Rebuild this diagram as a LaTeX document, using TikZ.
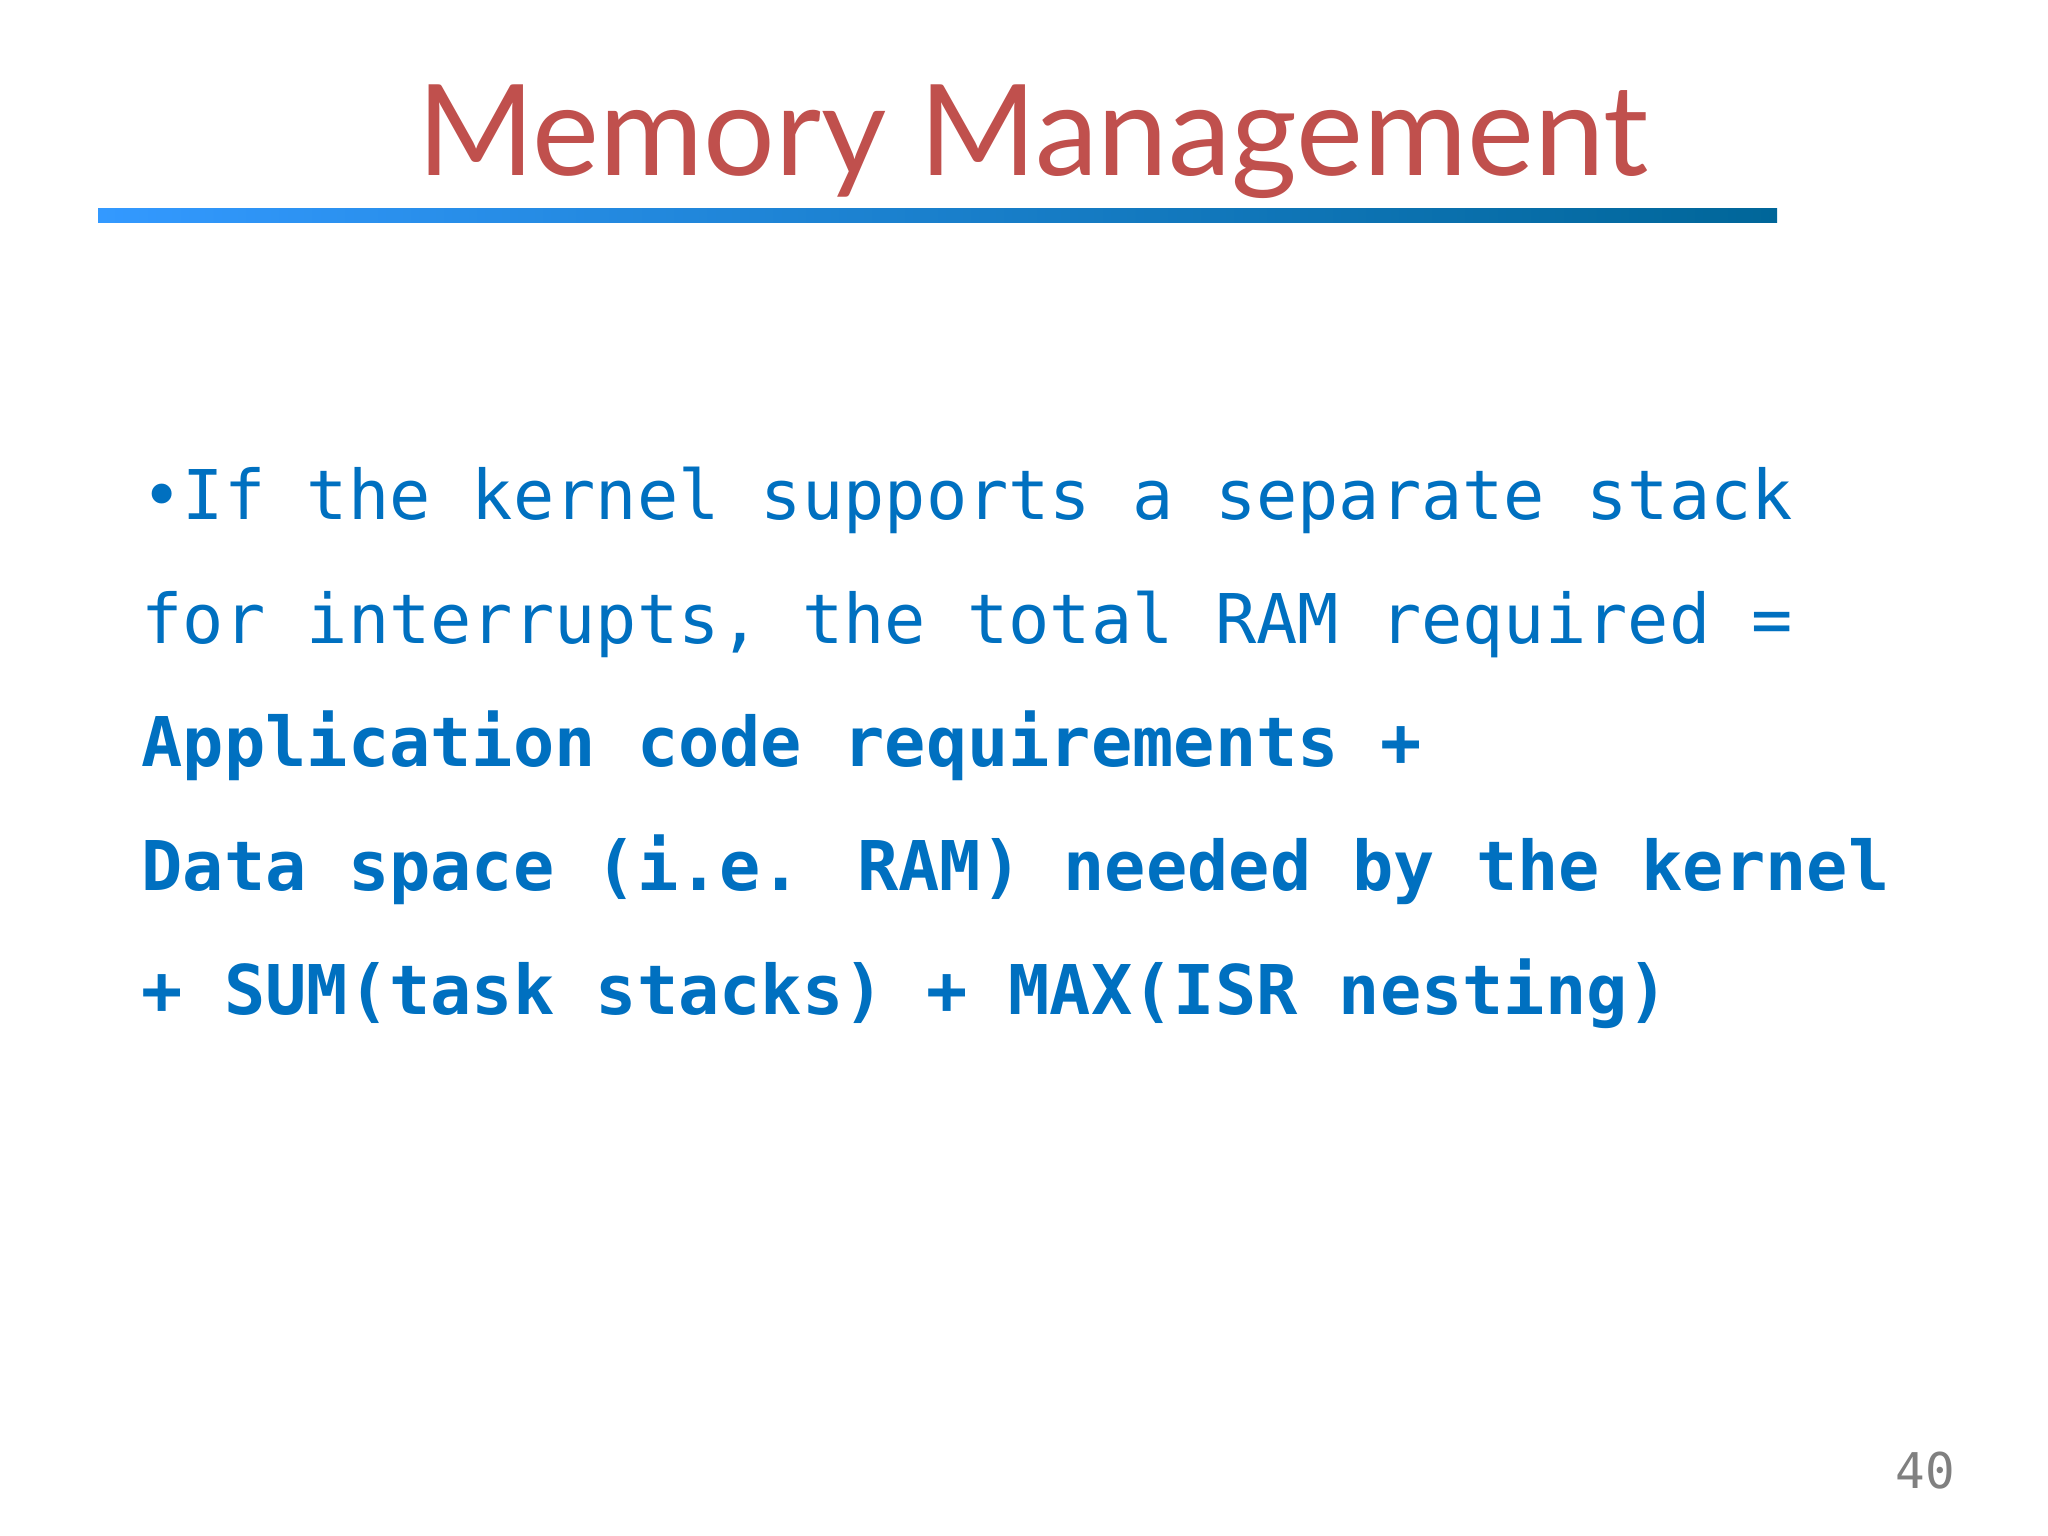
\documentclass[tikz,border=0pt]{standalone}
\usepackage{fontspec}
\setmainfont{Lato}
\newfontfamily\monof{DejaVu Sans Mono}
\usetikzlibrary{shadings}
\definecolor{titlec}{RGB}{192,80,77}
\definecolor{bodyc}{RGB}{0,112,192}
\definecolor{ga}{RGB}{51,153,255}
\definecolor{gb}{RGB}{0,102,153}
\tikzset{body/.style={anchor=base west,inner sep=0pt,text=bodyc,font=\monof\fontsize{19.5}{23}\selectfont}}
\begin{document}
\begin{tikzpicture}[x=0.01cm,y=-0.01cm]
\useasboundingbox[fill=white] (0,0) rectangle (2048,1536);
\node[anchor=base,inner sep=0pt,text=titlec,font=\fontsize{36}{40}\selectfont] (title) at (1033,175) {Memory Management};
\shade[left color=ga,right color=gb] (98,208) rectangle (1777,222);
\node[body] (l1) at (141,519) {•If the kernel supports a separate stack};
\node[body] (l2) at (141,643) {for interrupts, the total RAM required =};
\node[body,font=\monof\bfseries\fontsize{19.5}{23}\selectfont] (l3) at (141,766) {Application code requirements +};
\node[body,font=\monof\bfseries\fontsize{19.5}{23}\selectfont] (l4) at (141,890) {Data space (i.e. RAM) needed by the kernel};
\node[body,font=\monof\bfseries\fontsize{19.5}{23}\selectfont] (l5) at (141,1014) {+ SUM(task stacks) + MAX(ISR nesting)};
\node[anchor=base,inner sep=0pt,text=gray,font=\monof\fontsize{14}{16}\selectfont] (pg) at (1925,1488) {40};
\end{tikzpicture}
\end{document}
